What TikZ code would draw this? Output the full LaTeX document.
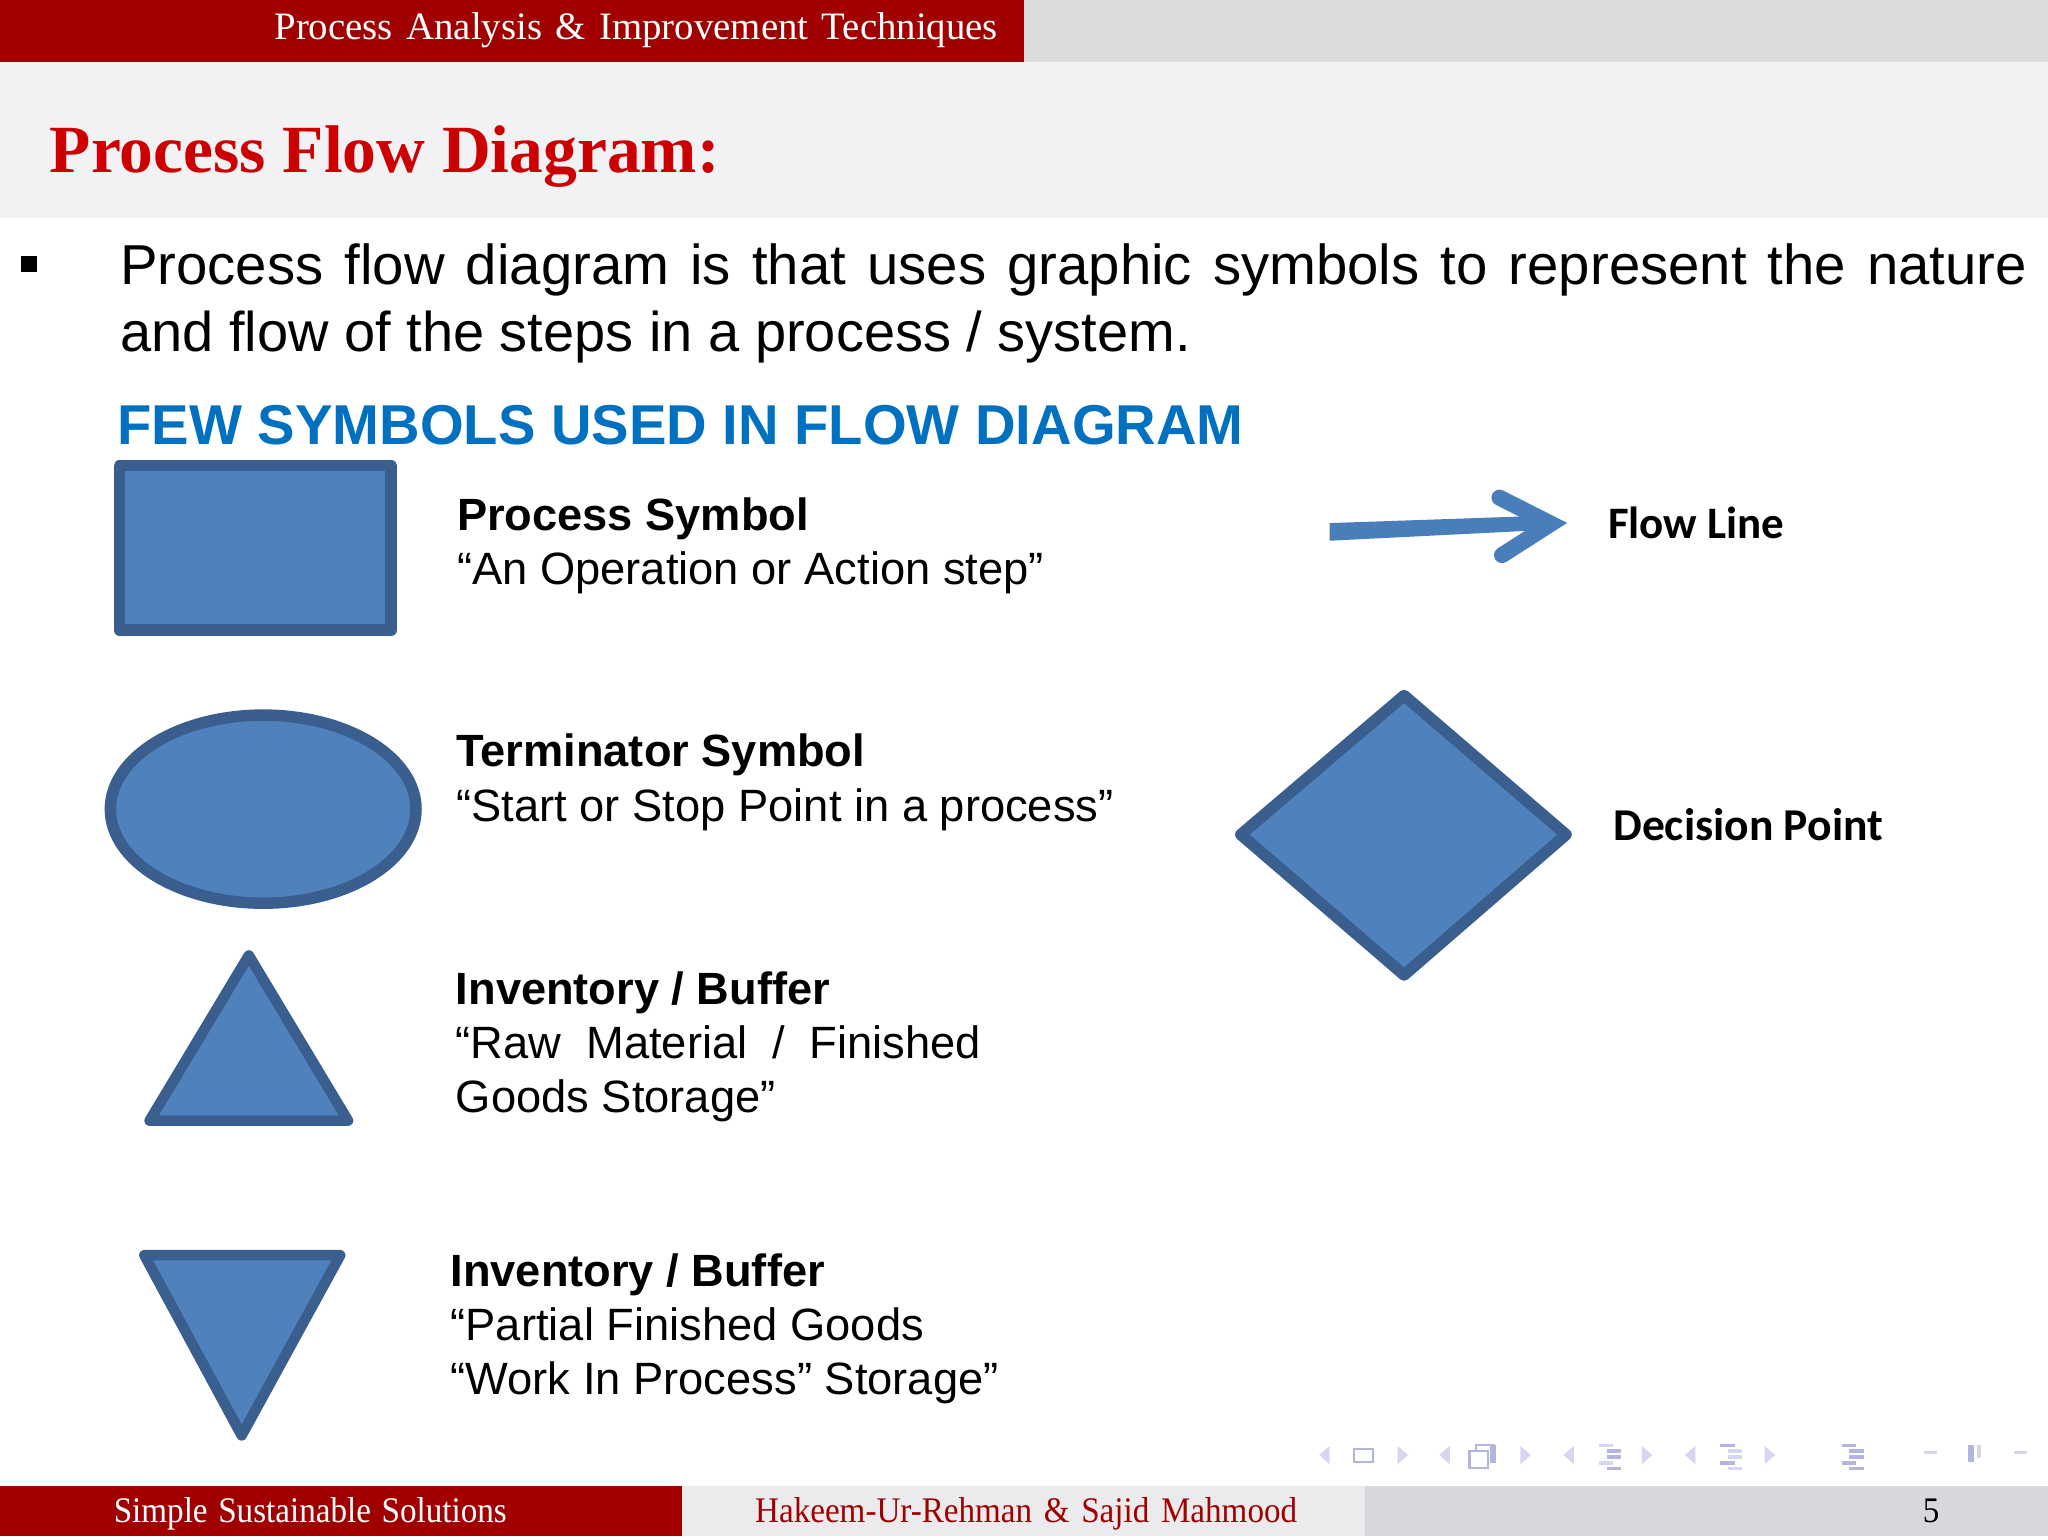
\documentclass[tikz,border=0pt]{standalone}
\usepackage{fontspec}
\setmainfont{Liberation Serif}
\setsansfont{Liberation Sans}
\newfontfamily\carl{Carlito}
\newfontfamily\sernar[FakeStretch=0.92]{Liberation Serif}
\definecolor{dred}{HTML}{A00000}
\definecolor{tred}{HTML}{CC0000}
\definecolor{tband}{HTML}{F2F2F4}
\definecolor{tgrey}{HTML}{DCDDDB}
\definecolor{fmid}{HTML}{EBEBED}
\definecolor{fgrey}{HTML}{D8D8DC}
\definecolor{sfill}{HTML}{4F81BD}
\definecolor{sline}{HTML}{3A5F8F}
\definecolor{aline}{HTML}{4A7EBB}
\definecolor{headblue}{HTML}{0070C0}
\definecolor{navd}{HTML}{B4B4E0}
\definecolor{navl}{HTML}{D6D6F0}
\newcommand{\fs}[1]{\fontsize{#1}{#1}\selectfont}
\tikzset{
  x=1.30612pt,y=-1.30612pt,
  sym/.style={fill=sfill,draw=sline,line width=11.5pt,line join=round},
  txt/.style={anchor=base west,inner sep=0pt,outer sep=0pt,font=\sffamily\fs{45.3}},
  btxt/.style={txt,font=\sffamily\bfseries\fs{45.2}},
  clbl/.style={anchor=base west,inner sep=0pt,font=\carl\bfseries\fs{45}},
  ser/.style={anchor=base west,inner sep=0pt,font=\sernar\fs{36}},
  navbar/.style={line width=3.4pt},
}
\newcommand{\navlt}[2]{\fill[navl] (#1+8,#2-7) -- (#1,#2) -- (#1+8,#2+7) -- cycle;}
\newcommand{\navrt}[2]{\fill[navl] (#1,#2-7) -- (#1+8,#2) -- (#1,#2+7) -- cycle;}
\newcommand{\navsec}[3]{% x, colour of the short lines, colour of the long lines
  \draw[navbar,#2] (#1+0,1106.5) -- (#1+11,1106.5);
  \draw[navbar,#3] (#1+6,1111) -- (#1+17,1111);
  \draw[navbar,#3] (#1+6,1115.5) -- (#1+17,1115.5);
  \draw[navbar,#2] (#1+0,1120) -- (#1+11,1120);
  \draw[navbar,#3] (#1+6,1124.5) -- (#1+17,1124.5);
}
\begin{document}
\begin{tikzpicture}
\useasboundingbox (0,0) rectangle (1568,1179);
\fill[white] (0,0) rectangle (1568,1179);
% header
\fill[dred] (0,0) rectangle (784,47.5);
\fill[tgrey] (784,0) rectangle (1568,47.5);
\fill[tband] (0,47.5) rectangle (1568,167);
\node[anchor=base west,inner sep=0pt,text=white,font=\rmfamily\fs{38.8}] (hdr) at (210,30) {\hbox to 723.5pt{Process\hfill Analysis\hfill \&\hfill Improvement\hfill Techniques}};
\node[anchor=base west,inner sep=0pt,text=tred,font=\rmfamily\bfseries\fs{67.5}] (title) at (38,132) {Process Flow Diagram:};
% paragraph
\fill[black] (16,196) rectangle (28,208);
\node[txt,font=\sffamily\fs{56.3}] (p1) at (92,218) {\hbox to 1907pt{Process\hfill flow\hfill diagram\hfill is\hfill that\hfill uses\hfill graphic\hfill symbols\hfill to\hfill represent\hfill the\hfill nature}};
\node[txt,font=\sffamily\fs{56}] (p2) at (92,269.5) {and flow of the steps in a process / system.};
\node[txt,font=\sffamily\bfseries\fs{56.15},text=headblue] (head) at (90,340) {FEW SYMBOLS USED IN FLOW DIAGRAM};
% symbols
\draw[sym] (91.5,356.5) rectangle (299.5,482.5);
\draw[sym] (201.5,619.5) ellipse [x radius=117,y radius=72];
\draw[sym,line width=10.5pt] (190.5,731.5) -- (266.5,858) -- (114.5,858) -- cycle;
\draw[sym,line width=10.5pt] (110.5,961) -- (260.5,961) -- (185,1099) -- cycle;
\draw[sym] (1075,532.5) -- (1199,639) -- (1075,746.5) -- (950,639) -- cycle;
% flow arrow
\coordinate (fu) at (1148,381);
\coordinate (fd) at (1150,425);
\coordinate (fk) at (1187.5,401);
\fill[aline] (1018,400.5) -- (1178,395) -- (1178,406) -- (1018,414) -- cycle;
\draw[aline,line width=16pt,line cap=round,line join=miter] (fu) -- (fk) -- (fd);
% labels
\node[btxt] (l1a) at (350,406) {Process Symbol};
\node[txt]  (l1b) at (350,447.5) {“An Operation or Action step”};
\node[btxt] (l2a) at (349.5,587) {Terminator Symbol};
\node[txt]  (l2b) at (349.5,629) {“Start or Stop Point in a process”};
\node[btxt] (l3a) at (349,769) {Inventory / Buffer};
\node[txt]  (l3b) at (349,810.5) {\hbox to 525pt{“Raw\hfill Material\hfill /\hfill Finished}};
\node[txt]  (l3c) at (349,852) {Goods Storage”};
\node[btxt] (l4a) at (345,985) {Inventory / Buffer};
\node[txt]  (l4b) at (345,1026.5) {“Partial Finished Goods};
\node[txt]  (l4c) at (345,1068) {“Work In Process” Storage”};
\node[clbl] (fl) at (1231,412) {Flow Line};
\node[clbl,font=\carl\bfseries\fs{45.6}] (dp) at (1235,643.5) {Decision Point};
% navigation symbols
\navlt{1010}{1114}
\draw[navd,line width=2.4pt] (1036.5,1109.5) rectangle (1051,1119.5);
\navrt{1070}{1114}
\navlt{1102}{1114}
\draw[navd,line width=2.2pt] (1125,1111) rectangle (1139,1124);
\draw[navd,line width=2.2pt] (1130,1111) -- (1130,1106.5) -- (1144,1106.5) -- (1144,1120);
\fill[navd] (1141,1106) rectangle (1145,1120);
\navrt{1164}{1114}
\navlt{1197}{1114}
\navsec{1224}{navl}{navd}
\navrt{1257}{1114}
\navlt{1290}{1114}
\navsec{1317}{navd}{navl}
\navrt{1351}{1114}
\navsec{1410}{navd}{navd}
\draw[navl,line width=2.4pt] (1473,1112) -- (1483,1112);
\fill[navd] (1507,1106) rectangle (1511,1119);
\fill[navl] (1514,1106) rectangle (1517,1116);
\draw[navl,line width=2.4pt] (1542,1112) -- (1552,1112);
% footer
\fill[dred] (0,1138) rectangle (522,1176);
\fill[fmid] (522,1138) rectangle (1045,1176);
\fill[fgrey] (1045,1138) rectangle (1568,1176);
\node[ser,text=white] (f1) at (87,1166) {\hbox to 393pt{Simple\hfill Sustainable\hfill Solutions}};
\node[ser,text=dred] (f2) at (578,1166) {\hbox to 542pt{Hakeem-Ur-Rehman\hfill \&\hfill Sajid\hfill Mahmood}};
\node[ser] (f3) at (1472,1166) {5};
\end{tikzpicture}
\end{document}
